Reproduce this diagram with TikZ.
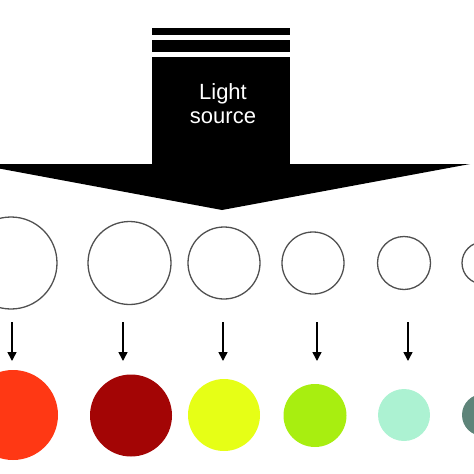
\documentclass[tikz,border=0pt]{standalone}
\usepackage{fontspec}
\setmainfont{Liberation Sans}
\usetikzlibrary{arrows.meta}
\definecolor{cA}{RGB}{255,56,20}
\definecolor{cB}{RGB}{163,5,5}
\definecolor{cC}{RGB}{230,255,22}
\definecolor{cD}{RGB}{168,238,16}
\definecolor{cE}{RGB}{172,242,210}
\definecolor{cF}{RGB}{94,132,121}
\definecolor{ring}{RGB}{80,80,80}
\tikzset{
  empty/.style={circle,draw=ring,line width=1.3pt,inner sep=0pt,fill=none},
  dye/.style={circle,draw=none,inner sep=0pt},
  down/.style={line width=1.6pt,-{Triangle[length=9pt,width=9pt]}},
}
\begin{document}
\begin{tikzpicture}[x=1pt,y=-1pt]
\useasboundingbox (0,0) rectangle (474,474);
\begin{scope}
\clip (0,0) rectangle (474,474);
% light source arrow
\fill[black] (152,28) rectangle (290,35);
\fill[black] (152,40) rectangle (290,52);
\fill[black] (152,57) rectangle (290,165);
\fill[black] (-25,164) -- (470,164) -- (222,210) -- cycle;
\node[text=white,align=center,font=\fontsize{22}{24}\selectfont] (src) at (223,104) {Light\\source};
% empty circles
\node[empty,minimum size=92pt] (e1) at (11,263) {};
\node[empty,minimum size=83pt] (e2) at (129.5,263) {};
\node[empty,minimum size=72pt] (e3) at (224,263) {};
\node[empty,minimum size=62pt] (e4) at (313,263) {};
\node[empty,minimum size=53pt] (e5) at (404,263) {};
\node[empty,minimum size=42pt] (e6) at (483,263) {};
% coloured circles
\node[dye,fill=cA,minimum size=90pt] (f1) at (13,415) {};
\node[dye,fill=cB,minimum size=82pt] (f2) at (131,415.5) {};
\node[dye,fill=cC,minimum size=72pt] (f3) at (224,415) {};
\node[dye,fill=cD,minimum size=63pt] (f4) at (315,415.5) {};
\node[dye,fill=cE,minimum size=52pt] (f5) at (404,415) {};
\node[dye,fill=cF,minimum size=42pt] (f6) at (483,415) {};
% arrows
\foreach \i/\x in {1/12,2/123,3/223,4/317,5/408}{
  \coordinate (s\i) at (\x,322);
  \coordinate (t\i) at (\x,361);
  \draw[down] (s\i) -- (t\i);
}
\end{scope}
\end{tikzpicture}
\end{document}
